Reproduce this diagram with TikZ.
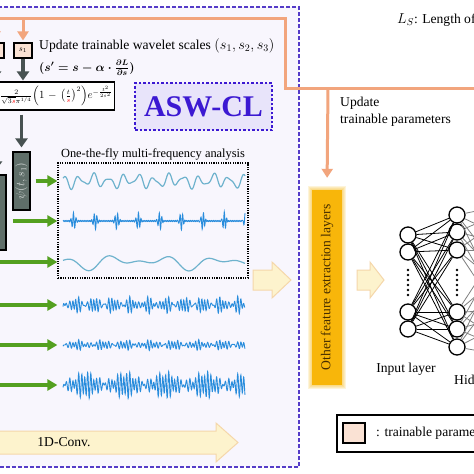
\documentclass[tikz,border=0pt]{standalone}
\usepackage{fontspec}
\setmainfont{Liberation Serif}
\usepackage{amsmath,graphicx}
\usetikzlibrary{arrows.meta,positioning,calc}

\definecolor{garisungu}{RGB}{85,60,200}
\definecolor{latarungu}{RGB}{248,246,253}
\definecolor{ungutua}{RGB}{60,25,210}
\definecolor{ungumuda}{RGB}{232,228,250}
\definecolor{jingga}{RGB}{242,165,125}
\definecolor{jinggatua}{RGB}{248,182,10}
\definecolor{pinkparam}{RGB}{250,226,212}
\definecolor{abutua}{RGB}{95,110,105}
\definecolor{abumuda}{RGB}{215,220,218}
\definecolor{abupanah}{RGB}{72,82,82}
\definecolor{hijau}{RGB}{84,160,32}
\definecolor{biru}{RGB}{40,140,220}
\definecolor{birumuda}{RGB}{110,178,205}
\definecolor{kuningmuda}{RGB}{253,243,205}
\definecolor{kuninggaris}{RGB}{245,215,170}
\definecolor{teksfitur}{RGB}{70,45,0}

\begin{document}
\begin{tikzpicture}[x=1pt,y=-1pt,
  teks/.style={font=\fontsize{13.6}{16.5}\selectfont, inner sep=1pt},
  param/.style={draw, line width=1.1pt, fill=pinkparam, minimum width=18pt, minimum height=15pt, inner sep=0pt, font=\footnotesize},
  rumus/.style={draw, line width=1.1pt, fill=white, minimum height=28pt, inner sep=2pt, font=\fontsize{10.5}{12}\selectfont},
  kotakpsi/.style={draw, line width=1.2pt, fill=abutua, text=abumuda, inner sep=0pt, font=\fontsize{12}{14}\selectfont},
  panahgelap/.style={-{Triangle[width=12pt,length=9pt]}, line width=3.5pt, draw=abupanah},
  panahhijau/.style={-{Triangle[width=11pt,length=10pt]}, line width=3.5pt, draw=hijau},
  panahjingga/.style={-{Triangle[width=11pt,length=9pt]}, line width=3pt, draw=jingga},
  garisjingga/.style={line width=3pt, draw=jingga},
  blok/.style={fill=kuningmuda, draw=kuninggaris, line width=1pt},
  neuron/.style={circle, draw, line width=1.3pt, fill=white, minimum size=16pt, inner sep=0pt},
  sinyal/.style={line width=0.9pt, draw=biru},
  sinyalhalus/.style={line width=1.2pt, draw=birumuda}
]

    % Latar dan batas gambar
    \fill[white] (0,0) rectangle (474,474);
    \useasboundingbox (0,0) rectangle (474,474);
    \clip (0,0) rectangle (474,474);

    % Kotak ASW (garis putus-putus)
    \draw[garisungu, dash pattern=on 4pt off 2pt, line width=1.2pt, fill=latarungu] (-20,7) rectangle (299,467);

    % Jalur pembaruan parameter
    \draw[garisjingga] (-30,18) -- (285,18) -- (285,88) -- (490,88);
    \coordinate (j0) at (-5,18);
    \coordinate (j1) at (23,18);
    \coordinate (j2) at (328,88);

    % Skala wavelet
    \node[param] (s0) at (-5,50.5) {};
    \node[param] (s1) at (23,50.5) {$s_1$};
    \draw[panahjingga, shorten >=2pt] (j0) -- (s0.north);
    \draw[panahjingga, shorten >=2pt] (j1) -- (s1.north);

    \node[teks, anchor=west] (teksskala) at (38,46) {Update trainable wavelet scales $(s_1, s_2, s_3)$};
    \node[anchor=west, inner sep=0pt, font=\fontsize{11.5}{13}\selectfont\boldmath] (teksrumus) at (39,68) {$(s^{\prime} = s - \alpha\cdot\frac{\partial L}{\partial s})$};

    % Rumus wavelet
    \node[rumus, anchor=east, text width=148pt, align=right] (rumuspsi) at (115,96)
      {$=\frac{2}{\sqrt{3{\color{red}s}}\pi^{1/4}}\Bigl(1-\bigl(\frac{t}{\color{red}s}\bigr)^{2}\Bigr)e^{-\frac{t^2}{2s^2}}$};
    \draw[panahgelap, shorten >=1pt] (s0.south) -- (s0.south |- rumuspsi.north);
    \draw[panahgelap, shorten >=1pt] (s1.south) -- (s1.south |- rumuspsi.north);

    % Kotak psi
    \node[kotakpsi, minimum width=17pt, minimum height=58pt] (w1) at (21.5,181) {\rotatebox{90}{$\psi(t, s_1)$}};
    \node[kotakpsi, minimum width=20pt, minimum height=75pt] (w2) at (-4,212.5) {};
    \draw[panahgelap, shorten <=4pt, shorten >=4pt] (w1.north |- rumuspsi.south) -- (w1.north);
    \draw[panahgelap, shorten <=4pt, shorten >=4pt] (w2.north |- rumuspsi.south) -- (w2.north);

    % Analisis multi-frekuensi
    \node[draw, dash pattern=on 1.2pt off 1.2pt, line width=1.2pt, minimum width=190pt, minimum height=115pt, inner sep=0pt] (ana) at (153,220.5) {};
    \node[teks, above=2pt of ana.north, inner sep=0pt, font=\fontsize{12.4}{15}\selectfont] (judul) {One-the-fly multi-frequency analysis};

    % Panah hijau
    \coordinate (b2) at (0,221);
    \coordinate (g3) at (-5,262);
    \coordinate (g4) at (-5,305);
    \coordinate (g5) at (-5,345);
    \coordinate (g6) at (-5,385);
    \draw[panahhijau, shorten <=5pt] (w1.east) -- (w1.east -| ana.west);
    \draw[panahhijau, shorten <=6pt] (w2.east |- b2) -- (ana.west |- b2);
    \foreach \g in {g3,g4,g5,g6}
      \draw[panahhijau] (\g) -- (ana.west |- \g);

    % Sinyal
    \draw[sinyalhalus] plot[domain=63:245, samples=300] (\x, {181-5*sin(24*\x)-2*sin(38.7*\x+30)-1.5*sin(8.8*\x)});
    \draw[sinyal] plot[domain=63:245, samples=800] (\x, {221-9*exp(-((frac((\x-63)/21.5)-0.5)*21.5)^2/5)*sin(360*frac(\x/2.6))-0.6*sin(360*frac(\x/1.9))});
    \draw[sinyalhalus] plot[domain=63:245, samples=250] (\x, {262-4*sin(7*\x+20)-3*sin(11*\x)-2*sin(3.3*\x)});
    \draw[sinyal] plot[domain=63:245, samples=800] (\x, {305-(4+3*sin(20*\x))*sin(360*frac(\x/3))-2*sin(360*frac(\x/4.3))});
    \draw[sinyal] plot[domain=63:245, samples=800] (\x, {345-(2.5+1.5*sin(15*\x))*sin(360*frac(\x/3))-1.5*sin(360*frac(\x/4.3))});
    \draw[sinyal] plot[domain=63:245, samples=800] (\x, {385-(7+4*sin(9*\x+40))*sin(360*frac(\x/3))-3*sin(360*frac(\x/4.3))});

    % Panah blok
    \draw[blok] (253,270) -- (272,270) -- (272,262) -- (291,280) -- (272,298) -- (272,290) -- (253,290) -- cycle;
    \draw[blok] (357,270) -- (370,270) -- (370,262) -- (384,280) -- (370,298) -- (370,290) -- (357,290) -- cycle;
    \draw[blok] (-10,431) -- (216,431) -- (216,423) -- (238,442.5) -- (216,462) -- (216,454) -- (-10,454) -- cycle;
    \node[teks] (konv) at (64,442.5) {1D-Conv.};

    % ASW-CL
    \node[draw=ungutua, line width=2.5pt, dash pattern=on 2.5pt off 2pt, fill=ungumuda, minimum width=137pt, minimum height=47pt, text=ungutua, font=\fontsize{30}{32}\selectfont\bfseries] (aswcl) at (203.5,106.5) {ASW-CL};

    % Lapisan ekstraksi fitur
    \foreach \g in {1,...,4}
      \fill[jinggatua, opacity=0.15] ({312-\g},{190-\g}) rectangle ({342+\g},{385+\g});
    \node[teks, fill=jinggatua, minimum width=30pt, minimum height=195pt, inner sep=0pt, text=teksfitur] (fitur) at (327,287.5) {\rotatebox{90}{Other feature extraction layers}};
    \draw[panahjingga, shorten >=12pt] (j2) -- (fitur.north);
    \node[teks, anchor=north west, align=left, inner sep=0pt] (upd) at (340,97) {Update\\trainable parameters};

    % Jaringan saraf
    \foreach \n/\y in {1/235, 2/252, 3/312, 4/329}
      \node[neuron] (i\n) at (408,\y) {};
    \foreach \n/\y in {1/215, 2/232, 3/250, 4/312, 5/329, 6/347}
      \node[neuron] (h\n) at (457,\y) {};
    \foreach \a in {1,...,4}
      \foreach \b in {1,...,6}
        \draw[line width=0.8pt] (i\a) -- (h\b);
    \coordinate (o1) at (530,200);
    \coordinate (o2) at (530,250);
    \coordinate (o3) at (530,310);
    \coordinate (o4) at (530,360);
    \foreach \b in {1,...,6}
      \foreach \c in {1,...,4}
        \draw[gray, line width=0.8pt] (h\b) -- (o\c);
    \foreach \x in {408,457}
      \foreach \y in {270,275,...,295}
        \fill (\x,\y) circle (1.3pt);
    \node[teks] (lblin) at (406,369) {Input layer};
    \node[teks, anchor=west] (lblhid) at (453,381) {Hidden layer};

    % Keterangan
    \draw[line width=1.2pt] (337,415) rectangle (500,452);
    \node[param, minimum width=22pt, minimum height=20pt] (leg) at (354,433) {};
    \node[teks, anchor=west] (legteks) at (375,433) {: trainable parameters};

    % Panjang sinyal
    \node[teks, anchor=west] (ls) at (396,20) {$L_S$: Length of};

\end{tikzpicture}
\end{document}
